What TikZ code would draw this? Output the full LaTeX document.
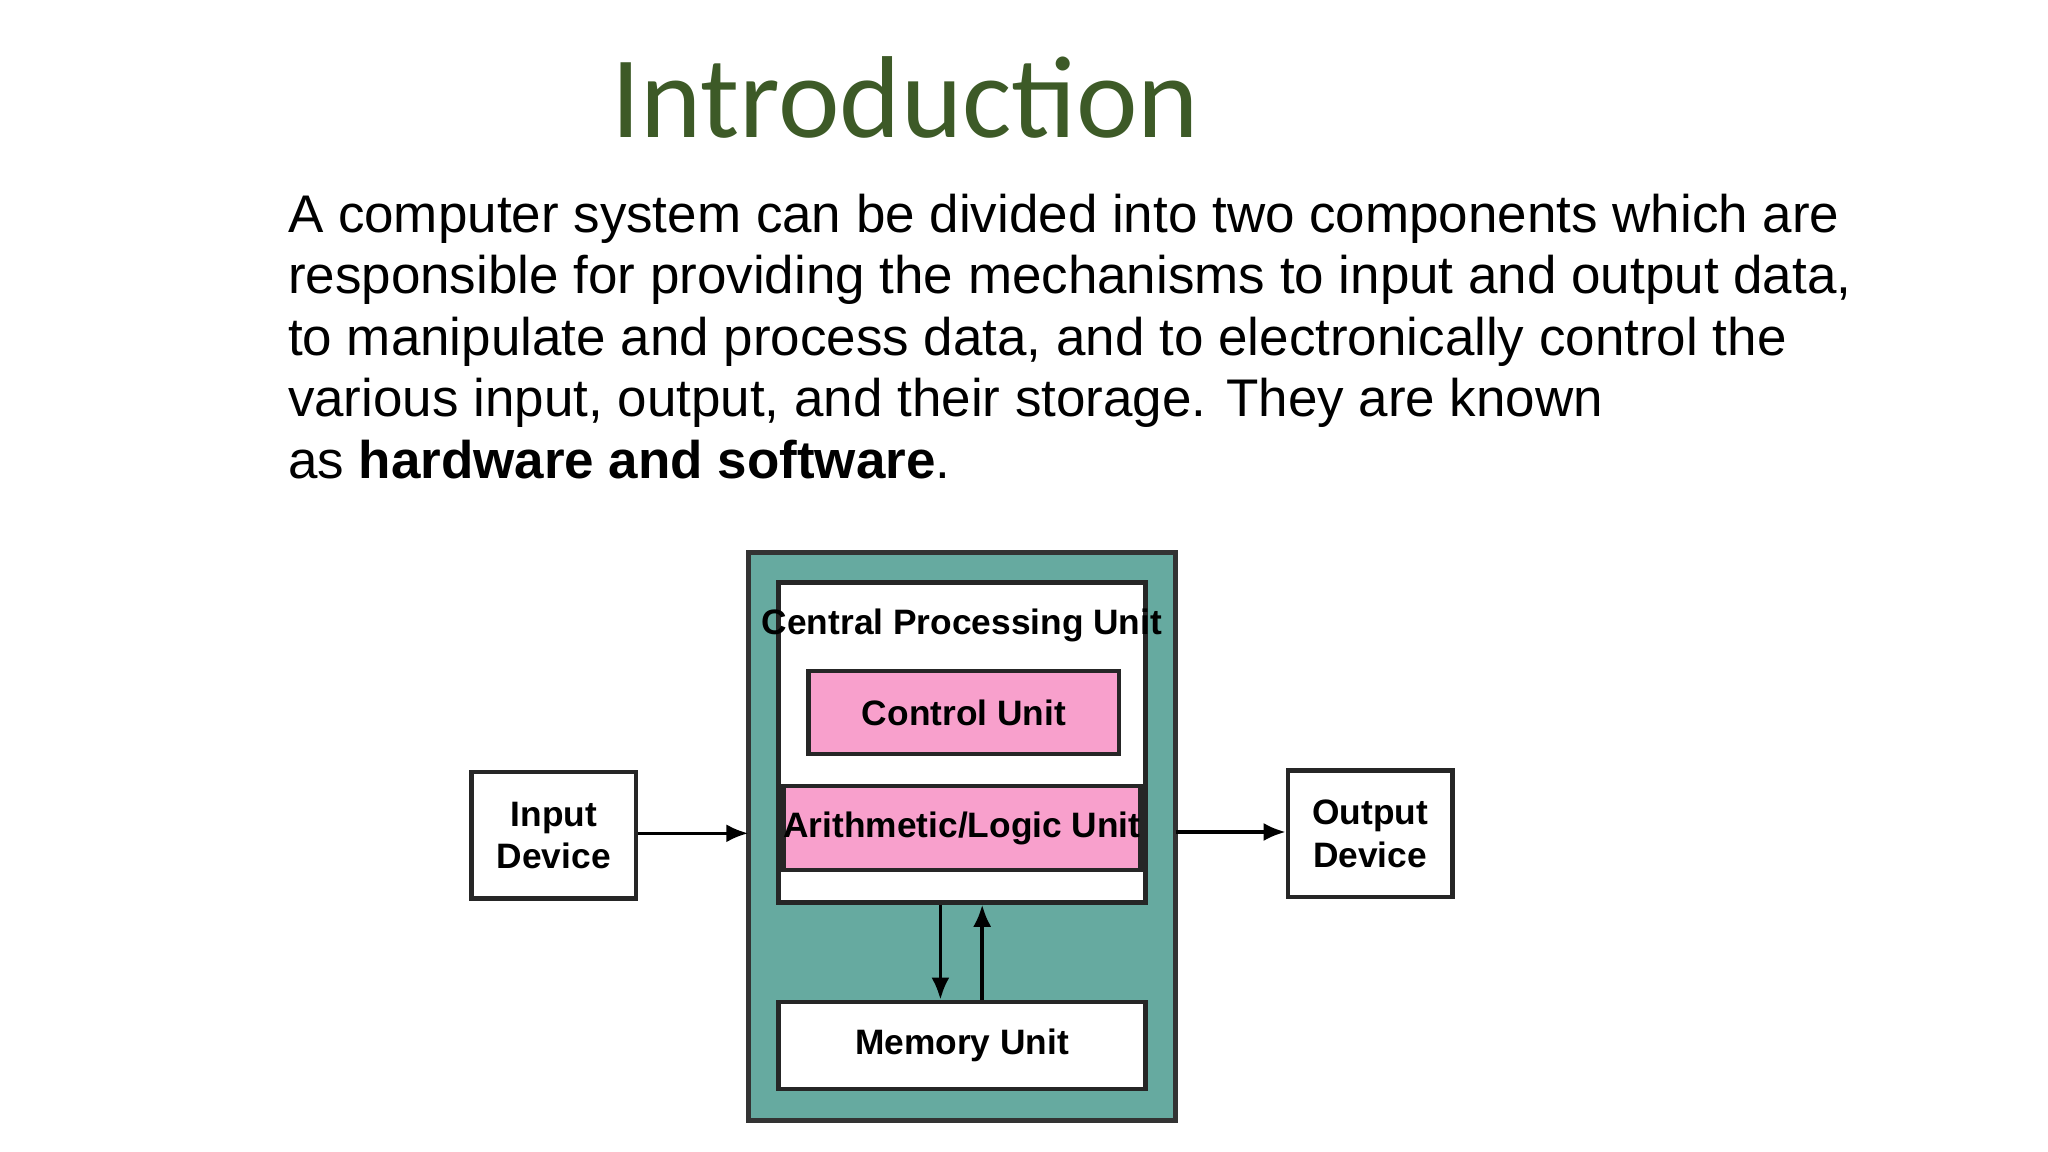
\documentclass[tikz,border=0pt]{standalone}
\usepackage{fontspec}
\setmainfont{Liberation Sans}
\newfontfamily\titlefont{Carlito}
\usetikzlibrary{arrows.meta}
\definecolor{titlegreen}{HTML}{3D5A27}
\definecolor{cputeal}{HTML}{66AAA0}
\definecolor{unitpink}{HTML}{F8A0CC}
\tikzset{
  box/.style = {draw=black!85, line width=1.2pt, inner sep=0pt, font=\bfseries\fontsize{10}{12}\selectfont, align=center},
  link/.style = {-{Latex[length=2.2mm,width=1.8mm]}, line width=1pt}
}
\begin{document}
\begin{tikzpicture}[x=0.013cm, y=-0.013cm]
\useasboundingbox (0,0) rectangle (1568,882);
%%%% Title and text:
\node[text=titlegreen, font=\titlefont\fontsize{33}{40}\selectfont] (title) at (693,75) {Introduction};
\node[anchor=north west, align=left, font=\fontsize{15}{17.4}\selectfont, inner sep=0pt] (text) at (220,148)
 {A computer system can be divided into two components which are\\
  responsible for providing the mechanisms to input and output data,\\
  to manipulate and process data, and to electronically control the\\
  various input, output, and their storage. They are known\\
  as \textbf{hardware and software}.};
%%%% Boxes:
\draw[fill=cputeal, draw=black!80, line width=1.5pt] (573,423) rectangle (900,858);
\node[box, fill=white, minimum width=281*0.013cm, minimum height=245*0.013cm] (cpu) at (736.5,568.5) {};
\node[font=\bfseries\fontsize{10}{12}\selectfont] (cpulabel) at (736.5,479) {Central Processing Unit};
\node[box, fill=unitpink, minimum width=238*0.013cm, minimum height=63*0.013cm] (cu) at (738,545.5) {Control Unit};
\node[box, fill=unitpink, minimum width=237*0.013cm, minimum height=64*0.013cm] (alu) at (736.5,634) {Arithmetic/Logic Unit};
\node[box, fill=white, minimum width=281*0.013cm, minimum height=67*0.013cm] (mem) at (736.5,800.5) {Memory Unit};
\node[box, fill=white, minimum width=126*0.013cm, minimum height=97*0.013cm] (in) at (424,639.5) {Input\\Device};
\node[box, fill=white, minimum width=126*0.013cm, minimum height=97*0.013cm] (out) at (1049,638.5) {Output\\Device};
%%%% Arrows:
\coordinate (tin) at (573,638);
\coordinate (tout) at (900,637);
\draw[link] (in.east |- tin) -- (tin);
\draw[link] (tout) -- (out.west |- tout);
\draw[link] (cpu.south -| 720,0) -- (mem.north -| 720,0);
\draw[link] (mem.north -| 752,0) -- (cpu.south -| 752,0);
\end{tikzpicture}
\end{document}
